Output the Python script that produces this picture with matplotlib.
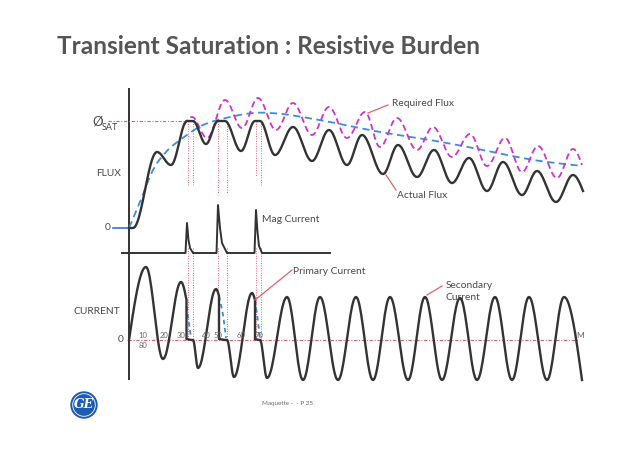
import numpy as np
import matplotlib
matplotlib.use("Agg")
import matplotlib.pyplot as plt
from matplotlib.patches import Circle

plt.rcParams['font.family'] = ['Lato', 'DejaVu Sans']

# ---------------- data (canvas units) ----------------
title = "Transient Saturation : Resistive Burden"

# actual flux: extrema / corners ; kind e = extremum (flat tangent), k = corner
flux_x = [129, 133, 157, 171, 187, 193, 206, 218, 225, 241, 255, 260, 275, 293, 312, 329, 347,
          362, 383, 398, 417, 434, 452, 469, 487, 503, 522, 537, 556, 573, 583]
flux_y = [228, 228, 152, 165, 121, 121, 144, 121, 121, 151, 121, 121, 155, 127, 161, 130, 165,
          135, 174, 145, 177, 150, 183, 158, 191, 162, 195, 171, 202, 175, 191]
flux_k = "e" * 30 + "k"

# required flux (dashed magenta)
req_x = [184, 192, 207, 225, 242, 258, 276, 293, 312, 329, 347, 365, 380, 397, 417, 433, 452,
         470, 487, 505, 522, 538, 557, 573, 582]
req_y = [125, 117, 138, 100, 128, 98, 130, 103, 135, 107, 138, 112, 147, 118, 150, 127, 157,
         134, 166, 138, 172, 146, 178, 149, 165]
req_k = "k" + "e" * 23 + "k"

# mean flux (dashed blue)
mean_x = [129, 140, 153, 166, 180, 203, 230, 253, 270, 290, 330, 380, 430, 473, 507, 540, 582]
mean_y = [228, 202, 170, 152, 140, 125, 117, 113, 113, 115, 122, 132, 140, 148, 155, 161, 166]

# magnetising current
mag_x = [122, 185.5, 187, 188.5, 190, 193, 216.5, 218, 220, 222, 227, 254.5, 256, 257.5, 259, 262, 330]
mag_y = [253, 253, 223, 240, 248, 253, 253, 205, 228, 243, 253, 253, 210, 232, 246, 253, 253]

# secondary current
cur_x = [129, 146, 163, 181, 186.5, 186.5, 193, 198, 216, 219, 219, 227, 234, 252, 255, 255, 260, 267,
         287, 303, 320, 338, 356, 373, 390, 408, 425, 442, 460, 477, 495, 512, 529, 547, 564, 582]
cur_y = [340, 267, 359, 282, 300, 339, 340, 368, 289, 296, 339, 340, 377, 293, 300, 339, 340, 378,
         297, 380, 297, 380, 297, 380, 297, 380, 297, 380, 298, 380, 297, 380, 297, 380, 297, 380]
cur_k = "keeekkee" + "ekkee" + "ekkee" + "e" * 17 + "k"

# primary current continuation during saturation (dashed blue)
prim_x = [[186.5, 188.5, 191], [219, 223, 226], [255, 257.5, 260]]
prim_y = [[306, 320, 338], [296, 315, 338], [300, 318, 338]]

# saturation marker verticals
mark_x = [187.5, 192.5, 217.5, 226.5, 255.5, 260.5]
mark_top_end = [185, 185, 193, 193, 176, 185]

tick_labels = ["10", "20", "30", "40", "50", "60", "70"]
tick_x = [143, 164, 181, 206, 218, 241, 259]


def ease_path(xs, ys, kinds, n=24):
    ox, oy = [xs[0]], [ys[0]]
    for i in range(len(xs) - 1):
        s = np.linspace(0, 1, n)[1:]
        a, b = kinds[i], kinds[i + 1]
        if a == "e" and b == "e":
            f = (1 - np.cos(np.pi * s)) / 2
        elif a == "e" and b == "k":
            f = 1 - np.cos(np.pi / 2 * s)
        elif a == "k" and b == "e":
            f = np.sin(np.pi / 2 * s)
        else:
            f = s
        ox.extend(xs[i] + (xs[i + 1] - xs[i]) * s)
        oy.extend(ys[i] + (ys[i + 1] - ys[i]) * f)
    return np.array(ox), np.array(oy)


def catmull(xs, ys, n=20):
    P = np.column_stack([xs, ys]).astype(float)
    P = np.vstack([P[0], P, P[-1]])
    out = [P[1]]
    for i in range(1, len(P) - 2):
        p0, p1, p2, p3 = P[i - 1], P[i], P[i + 1], P[i + 2]
        t = np.linspace(0, 1, n)[1:, None]
        pts = 0.5 * ((2 * p1) + (-p0 + p2) * t + (2 * p0 - 5 * p1 + 4 * p2 - p3) * t ** 2
                     + (-p0 + 3 * p1 - 3 * p2 + p3) * t ** 3)
        out.extend(pts)
    out = np.array(out)
    return out[:, 0], out[:, 1]


fig = plt.figure(figsize=(6.38, 4.51), dpi=100)
ax = fig.add_axes([0, 0, 1, 1])
ax.set_xlim(0, 638)
ax.set_ylim(451, 0)
ax.axis("off")

dark = "#333333"
red = "#e0606e"
txt = "#4a4a4a"

# title
ax.text(57, 47, title, fontsize=17.6, fontweight="bold", color="#555555", ha="left", va="center")

# vertical axis
ax.plot([129, 129], [88, 380], color=dark, lw=1.4, solid_capstyle="butt")

# reference lines
ax.plot([108, 187], [121, 121], color=red, lw=0.8, dashes=(3, 1.5, 1, 1.5))
ax.plot([128, 578], [340, 340], color=red, lw=0.8, dashes=(3, 1.5, 1, 1.5))
for x, yb in zip(mark_x, mark_top_end):
    ax.plot([x, x], [121, yb], color=red, lw=0.7, dashes=(1, 1.5))
    ax.plot([x, x], [248, 339], color=red, lw=0.7, dashes=(1, 1.5))

# flux curves
mx, my = catmull(mean_x, mean_y)
ax.plot(mx, my, color="#3b8ed8", lw=1.3, dashes=(4, 2.5))
ax.plot([113, 129], [228, 228], color="#3b6fd8", lw=1.2)
rx, ry = ease_path(req_x, req_y, req_k)
ax.plot(rx, ry, color="#cc33cc", lw=1.3, dashes=(3.5, 2))
fx, fy = ease_path(flux_x, flux_y, flux_k)
ax.plot(fx, fy, color=dark, lw=1.7)

# magnetising current
ax.plot(mag_x, mag_y, color=dark, lw=1.4)

# currents
for px, py in zip(prim_x, prim_y):
    qx, qy = catmull(px, py, n=10)
    ax.plot(qx, qy, color="#3b8ed8", lw=1.3, dashes=(2.5, 2))
cx, cy = ease_path(cur_x, cur_y, cur_k)
ax.plot(cx, cy, color=dark, lw=1.7)

# leaders
for (x0, y0, x1, y1) in [(368, 113, 388, 105), (386, 175, 396, 190),
                         (255, 300, 292, 270), (427, 295, 442, 286)]:
    ax.plot([x0, x1], [y0, y1], color=red, lw=0.9)

fs = 7.4
ax.text(392, 104, "Required Flux", fontsize=fs, color=txt, va="center")
ax.text(397, 196, "Actual Flux", fontsize=fs, color=txt, va="center")
ax.text(262, 219, "Mag Current", fontsize=fs, color=txt, va="center")
ax.text(293, 272, "Primary Current", fontsize=fs, color=txt, va="center")
ax.text(446, 285, "Secondary", fontsize=fs, color=txt, va="center")
ax.text(446, 298, "Current", fontsize=fs, color=txt, va="center")

ax.text(92, 122, "Ø", fontsize=9.5, color=txt, va="center")
ax.text(102, 127, "SAT", fontsize=6.5, color=txt, va="center")
ax.text(96, 173, "FLUX", fontsize=fs, color=txt, va="center")
ax.text(105, 227, "0", fontsize=fs, color=txt, va="center")
ax.text(73, 311, "CURRENT", fontsize=fs, color=txt, va="center")
ax.text(118, 340, "0", fontsize=fs, color=txt, va="center")

for lab, x in zip(tick_labels, tick_x):
    ax.text(x, 335, lab, fontsize=5.5, color="#666666", ha="center", va="center")
ax.text(143, 345, "80", fontsize=5.5, color="#666666", ha="center", va="center")
ax.text(580, 335, "M", fontsize=6, color="#666666", ha="center", va="center")

# footer
ax.text(288, 404, "Maquette -  - P 35", fontsize=4.5, color="#666666", ha="center", va="center")
ax.add_patch(Circle((84, 405), 13, color="#1e5bb5", zorder=3))
ax.add_patch(Circle((84, 405), 11.3, fill=False, ec="white", lw=0.6, zorder=4))
ax.text(84, 405, "GE", fontsize=9, color="white", ha="center", va="center",
        fontstyle="italic", fontweight="bold", family="DejaVu Serif", zorder=5)

fig.savefig("out.png", dpi=100)
